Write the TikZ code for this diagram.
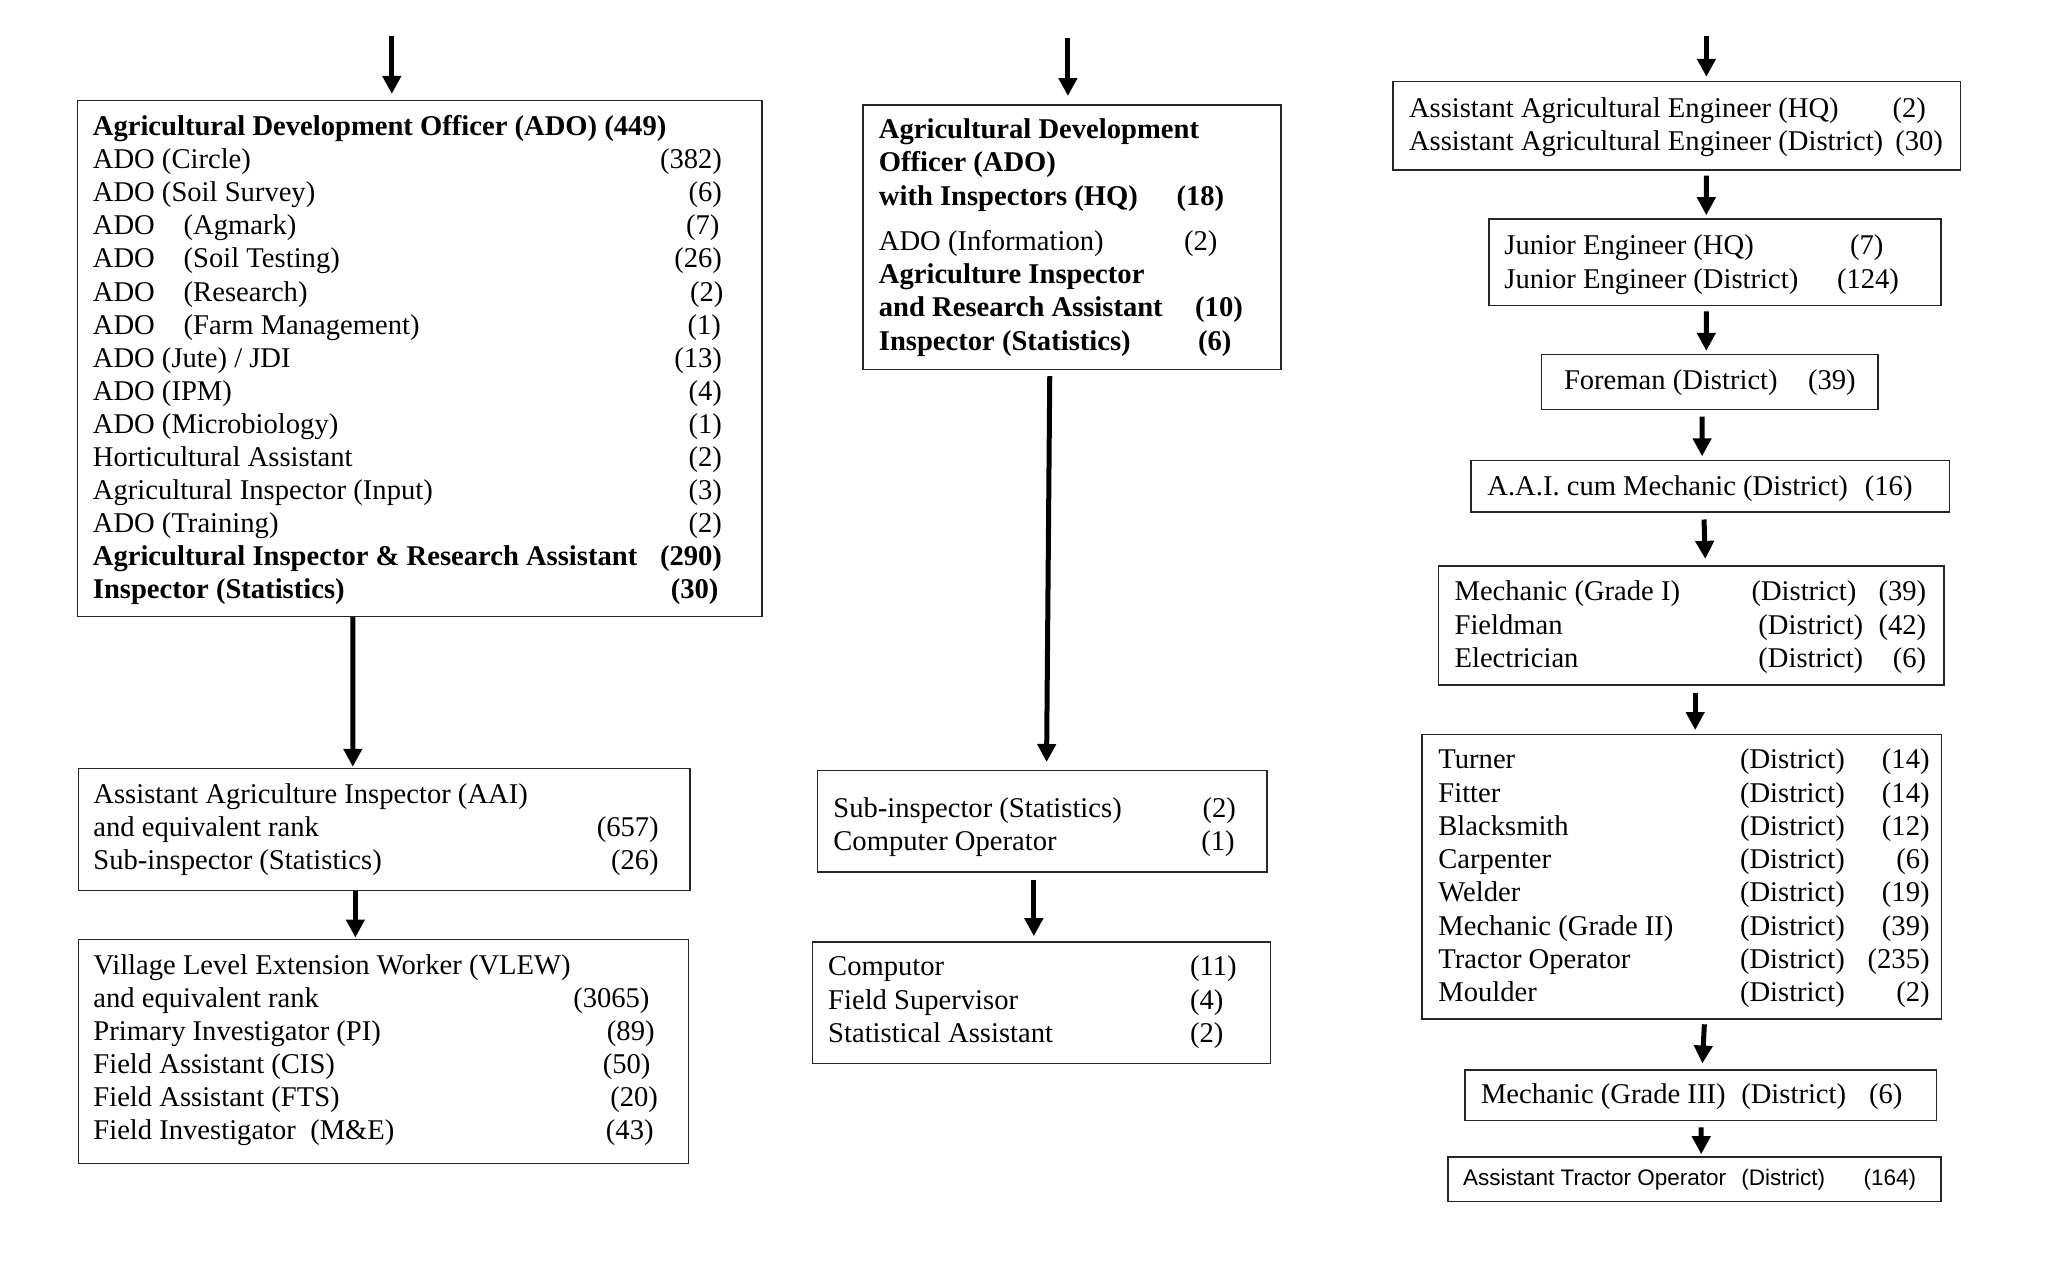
\documentclass[tikz,border=0pt]{standalone}
\usepackage{fontspec}
\setmainfont{Liberation Serif}
\newfontfamily\arialf{Liberation Sans}
\usetikzlibrary{arrows.meta}
\newcommand\tsz{\fontsize{28.6pt}{33pt}\selectfont}
\newcommand\asz{\arialf\fontsize{22.5pt}{26pt}\selectfont}
\newcommand\txtL[4]{\node[txt,anchor=base west] (#1) at (#2,#3) {#4};}
\newcommand\txtR[4]{\node[txt,anchor=base east] (#1) at (#2,#3) {#4};}
\begin{document}
\begin{tikzpicture}[x=1pt,y=-1pt,
 box/.style={draw=black!85,line width=1.6pt,inner sep=0pt,anchor=north west},
 txt/.style={inner sep=0pt,outer sep=0pt,font=\tsz},
 arr/.style={line width=5pt,-{Triangle[width=18pt,length=18pt]}}]
\fill[white] (0,0) rectangle (2048,1261);
\useasboundingbox (0,0) rectangle (2048,1261);

% ---------- boxes ----------
\node[box,minimum width=684.7pt,minimum height=515.9pt] (b1) at (76.5,99.6) {};
\node[box,minimum width=611.7pt,minimum height=121.8pt] (b2) at (77.6,767.8) {};
\node[box,minimum width=610.2pt,minimum height=224.3pt] (b3) at (77.6,938.5) {};
\node[box,minimum width=418pt,minimum height=264.6pt] (b4) at (862.2,104) {};
\node[box,minimum width=449.6pt,minimum height=101.4pt] (b5) at (816.8,769.5) {};
\node[box,minimum width=457.9pt,minimum height=121.6pt] (b6) at (811.6,941) {};
\node[box,minimum width=567.6pt,minimum height=88.4pt] (b7) at (1391.9,80.8) {};
\node[box,minimum width=451.7pt,minimum height=86.2pt] (b8) at (1488.2,218.3) {};
\node[box,minimum width=336.6pt,minimum height=54.9pt] (b9) at (1540.6,353.6) {};
\node[box,minimum width=478.9pt,minimum height=51.4pt] (b10) at (1469.9,459.8) {};
\node[box,minimum width=505.8pt,minimum height=119.2pt] (b11) at (1437.5,565.2) {};
\node[box,minimum width=519.4pt,minimum height=284.2pt] (b12) at (1421.3,733.7) {};
\node[box,minimum width=471.7pt,minimum height=50.8pt] (b13) at (1463.9,1069) {};
\node[box,minimum width=493pt,minimum height=44.6pt] (b14) at (1446.9,1156) {};

% ---------- box 1 ----------
\txtL{t1a}{92.9}{135.5}{\bfseries Agricultural Development Officer (ADO) (449)}
\txtL{t1b}{92.9}{168.6}{ADO (Circle)}\txtR{n1b}{722}{168.6}{(382)}
\txtL{t1c}{92.9}{201.7}{ADO (Soil Survey)}\txtR{n1c}{722}{201.7}{(6)}
\txtL{t1d}{92.9}{234.8}{ADO}\txtL{u1d}{183.7}{234.8}{(Agmark)}\txtR{n1d}{719.4}{234.8}{(7)}
\txtL{t1e}{92.9}{267.9}{ADO}\txtL{u1e}{183.7}{267.9}{(Soil Testing)}\txtR{n1e}{722}{267.9}{(26)}
\txtL{t1f}{92.9}{301}{ADO}\txtL{u1f}{183.7}{301}{(Research)}\txtR{n1f}{723.5}{301}{(2)}
\txtL{t1g}{92.9}{334.1}{ADO}\txtL{u1g}{183.7}{334.1}{(Farm Management)}\txtR{n1g}{721}{334.1}{(1)}
\txtL{t1h}{92.9}{367.2}{ADO (Jute) / JDI}\txtR{n1h}{722}{367.2}{(13)}
\txtL{t1i}{92.9}{400.3}{ADO (IPM)}\txtR{n1i}{722}{400.3}{(4)}
\txtL{t1j}{92.9}{433.4}{ADO (Microbiology)}\txtR{n1j}{722}{433.4}{(1)}
\txtL{t1k}{92.9}{466.5}{Horticultural Assistant}\txtR{n1k}{722}{466.5}{(2)}
\txtL{t1l}{92.9}{499.6}{Agricultural Inspector (Input)}\txtR{n1l}{722}{499.6}{(3)}
\txtL{t1m}{92.9}{532.7}{ADO (Training)}\txtR{n1m}{722}{532.7}{(2)}
\txtL{t1n}{92.9}{565.8}{\bfseries Agricultural Inspector \& Research Assistant}\txtR{n1n}{722}{565.8}{\bfseries (290)}
\txtL{t1o}{92.9}{598.9}{\bfseries Inspector (Statistics)}\txtR{n1o}{718.4}{598.9}{\bfseries (30)}

% ---------- box 2 ----------
\txtL{t2a}{93.4}{803.2}{Assistant Agriculture Inspector (AAI)}
\txtL{t2b}{93.4}{836.3}{and equivalent rank}\txtR{n2b}{658.7}{836.3}{(657)}
\txtL{t2c}{93.4}{869.4}{Sub-inspector (Statistics)}\txtR{n2c}{658.7}{869.4}{(26)}

% ---------- box 3 ----------
\txtL{t3a}{93.4}{974}{Village Level Extension Worker (VLEW)}
\txtL{t3b}{93.4}{1007.1}{and equivalent rank}\txtR{n3b}{649.5}{1007.1}{(3065)}
\txtL{t3c}{93.4}{1040.2}{Primary Investigator (PI)}\txtR{n3c}{654.6}{1040.2}{(89)}
\txtL{t3d}{93.4}{1073.3}{Field Assistant (CIS)}\txtR{n3d}{650.5}{1073.3}{(50)}
\txtL{t3e}{93.4}{1106.4}{Field Assistant (FTS)}\txtR{n3e}{658}{1106.4}{(20)}
\txtL{t3f}{93.4}{1139.5}{Field Investigator\ \ (M\&E)}\txtR{n3f}{653.6}{1139.5}{(43)}

% ---------- box 4 ----------
\txtL{t4a}{878.9}{138.8}{\bfseries Agricultural Development}
\txtL{t4b}{878.9}{171.4}{\bfseries Officer (ADO)}
\txtL{t4c}{878.9}{205.3}{\bfseries with Inspectors (HQ)}\txtL{n4c}{1176.6}{205.3}{\bfseries (18)}
\txtL{t4d}{878.9}{250.2}{ADO (Information)}\txtL{n4d}{1184}{250.2}{(2)}
\txtL{t4e}{878.9}{283.7}{\bfseries Agriculture Inspector}
\txtL{t4f}{878.9}{316.3}{\bfseries and Research Assistant}\txtL{n4f}{1195.2}{316.3}{\bfseries (10)}
\txtL{t4g}{878.9}{350.2}{\bfseries Inspector (Statistics)}\txtL{n4g}{1198}{350.2}{\bfseries (6)}

% ---------- box 5 ----------
\txtL{t5a}{833.4}{817}{Sub-inspector (Statistics)}\txtR{n5a}{1236}{817}{(2)}
\txtL{t5b}{833.4}{850}{Computer Operator}\txtR{n5b}{1234.7}{850}{(1)}

% ---------- box 6 ----------
\txtL{t6a}{828.2}{975.8}{Computor}\txtL{n6a}{1190}{975.8}{(11)}
\txtL{t6b}{828.2}{1009}{Field Supervisor}\txtL{n6b}{1190}{1009}{(4)}
\txtL{t6c}{828.2}{1042.8}{Statistical Assistant}\txtL{n6c}{1190}{1042.8}{(2)}

% ---------- box 7 ----------
\txtL{t7a}{1409}{117}{Assistant Agricultural Engineer (HQ)}\txtL{n7a}{1892.6}{117}{(2)}
\txtL{t7b}{1409}{150.4}{Assistant Agricultural Engineer (District)}\txtR{n7b}{1943}{150.4}{(30)}

% ---------- box 8 ----------
\txtL{t8a}{1504.4}{254.5}{Junior Engineer (HQ)}\txtL{n8a}{1850}{254.5}{(7)}
\txtL{t8b}{1504.4}{288}{Junior Engineer (District)}\txtL{n8b}{1837}{288}{(124)}

% ---------- box 9 ----------
\txtL{t9a}{1564}{389.3}{Foreman (District)}\txtL{n9a}{1808}{389.3}{(39)}

% ---------- box 10 ----------
\txtL{t10a}{1487.4}{495.5}{A.A.I. cum Mechanic (District)}\txtL{n10a}{1864.9}{495.5}{(16)}

% ---------- box 11 ----------
\txtL{t11a}{1454.6}{600.4}{Mechanic (Grade I)}\txtL{d11a}{1751.5}{600.4}{(District)}\txtR{n11a}{1926.2}{600.4}{(39)}
\txtL{t11b}{1454.6}{634}{Fieldman}\txtL{d11b}{1758.4}{634}{(District)}\txtR{n11b}{1926.2}{634}{(42)}
\txtL{t11c}{1454.6}{667.4}{Electrician}\txtL{d11c}{1758.4}{667.4}{(District)}\txtR{n11c}{1926.2}{667.4}{(6)}

% ---------- box 12 ----------
\txtL{t12a}{1438.4}{768.9}{Turner}\txtL{d12a}{1740}{768.9}{(District)}\txtR{n12a}{1929.6}{768.9}{(14)}
\txtL{t12b}{1438.4}{802.1}{Fitter}\txtL{d12b}{1740}{802.1}{(District)}\txtR{n12b}{1929.6}{802.1}{(14)}
\txtL{t12c}{1438.4}{835.4}{Blacksmith}\txtL{d12c}{1740}{835.4}{(District)}\txtR{n12c}{1929.6}{835.4}{(12)}
\txtL{t12d}{1438.4}{868.6}{Carpenter}\txtL{d12d}{1740}{868.6}{(District)}\txtR{n12d}{1929.6}{868.6}{(6)}
\txtL{t12e}{1438.4}{901.9}{Welder}\txtL{d12e}{1740}{901.9}{(District)}\txtR{n12e}{1929.6}{901.9}{(19)}
\txtL{t12f}{1438.4}{935.1}{Mechanic (Grade II)}\txtL{d12f}{1740}{935.1}{(District)}\txtR{n12f}{1929.6}{935.1}{(39)}
\txtL{t12g}{1438.4}{968.3}{Tractor Operator}\txtL{d12g}{1740}{968.3}{(District)}\txtR{n12g}{1929.6}{968.3}{(235)}
\txtL{t12h}{1438.4}{1001.6}{Moulder}\txtL{d12h}{1740}{1001.6}{(District)}\txtR{n12h}{1929.6}{1001.6}{(2)}

% ---------- box 13 ----------
\txtL{t13a}{1481}{1103.5}{Mechanic (Grade III)}\txtL{d13a}{1741.3}{1103.5}{(District)}\txtL{n13a}{1869}{1103.5}{(6)}

% ---------- box 14 ----------
\node[txt,font=\asz,anchor=base west] (t14a) at (1463.1,1185) {Assistant Tractor Operator};
\node[txt,font=\asz,anchor=base west] (d14a) at (1741.3,1185) {(District)};
\node[txt,font=\asz,anchor=base west] (n14a) at (1863.6,1185) {(164)};

% ---------- connectors ----------
\coordinate (s1) at (391.8,36);
\coordinate (s2) at (1067.9,37.6);
\coordinate (s3) at (1706.4,35.7);
\draw[arr,shorten >=5.7pt] (s1) -- (s1 |- b1.north);
\draw[arr,shorten >=8pt] (s2) -- (s2 |- b4.north);
\draw[arr,shorten >=4pt] (s3) -- (s3 |- b7.north);

\draw[arr,shorten >=1pt] ([xshift=-66.85pt]b1.south) -- ([xshift=-31.45pt]b2.north);
\draw[arr,shorten >=1pt] ([xshift=-28.85pt]b2.south) -- ([xshift=-28.1pt]b3.north);

\draw[arr,shorten <=6pt,shorten >=7.5pt] ([xshift=-22.2pt]b4.south) -- ([xshift=4.1pt]b5.north);
\draw[arr,shorten <=7.5pt,shorten >=4.8pt] ([xshift=-8.6pt]b5.south) -- ([xshift=-7.55pt]b6.north);

\draw[arr,shorten <=4.8pt,shorten >=3.1pt] ([xshift=29.8pt]b7.south) -- ([xshift=-8.55pt]b8.north);
\draw[arr,shorten <=5.3pt,shorten >=2.7pt] ([xshift=-8.55pt]b8.south) -- ([xshift=-3.4pt]b9.north);
\draw[arr,shorten <=6.5pt,shorten >=3.5pt] ([xshift=-7.6pt]b9.south) -- ([xshift=-8.05pt]b10.north);
\draw[arr,shorten <=6.7pt,shorten >=6.3pt] ([xshift=-6.35pt]b10.south) -- ([xshift=14.3pt]b11.north);
\draw[arr,shorten <=6.6pt,shorten >=3.7pt] ([xshift=4pt]b11.south) -- ([xshift=13.4pt]b12.north);
\draw[arr,shorten <=4.8pt,shorten >=5.5pt] ([xshift=22.8pt]b12.south) -- ([xshift=1.55pt]b13.north);
\draw[arr,shorten <=5.9pt,shorten >=1.8pt] ([xshift=0.65pt]b13.south) -- ([xshift=7pt]b14.north);
\end{tikzpicture}
\end{document}
